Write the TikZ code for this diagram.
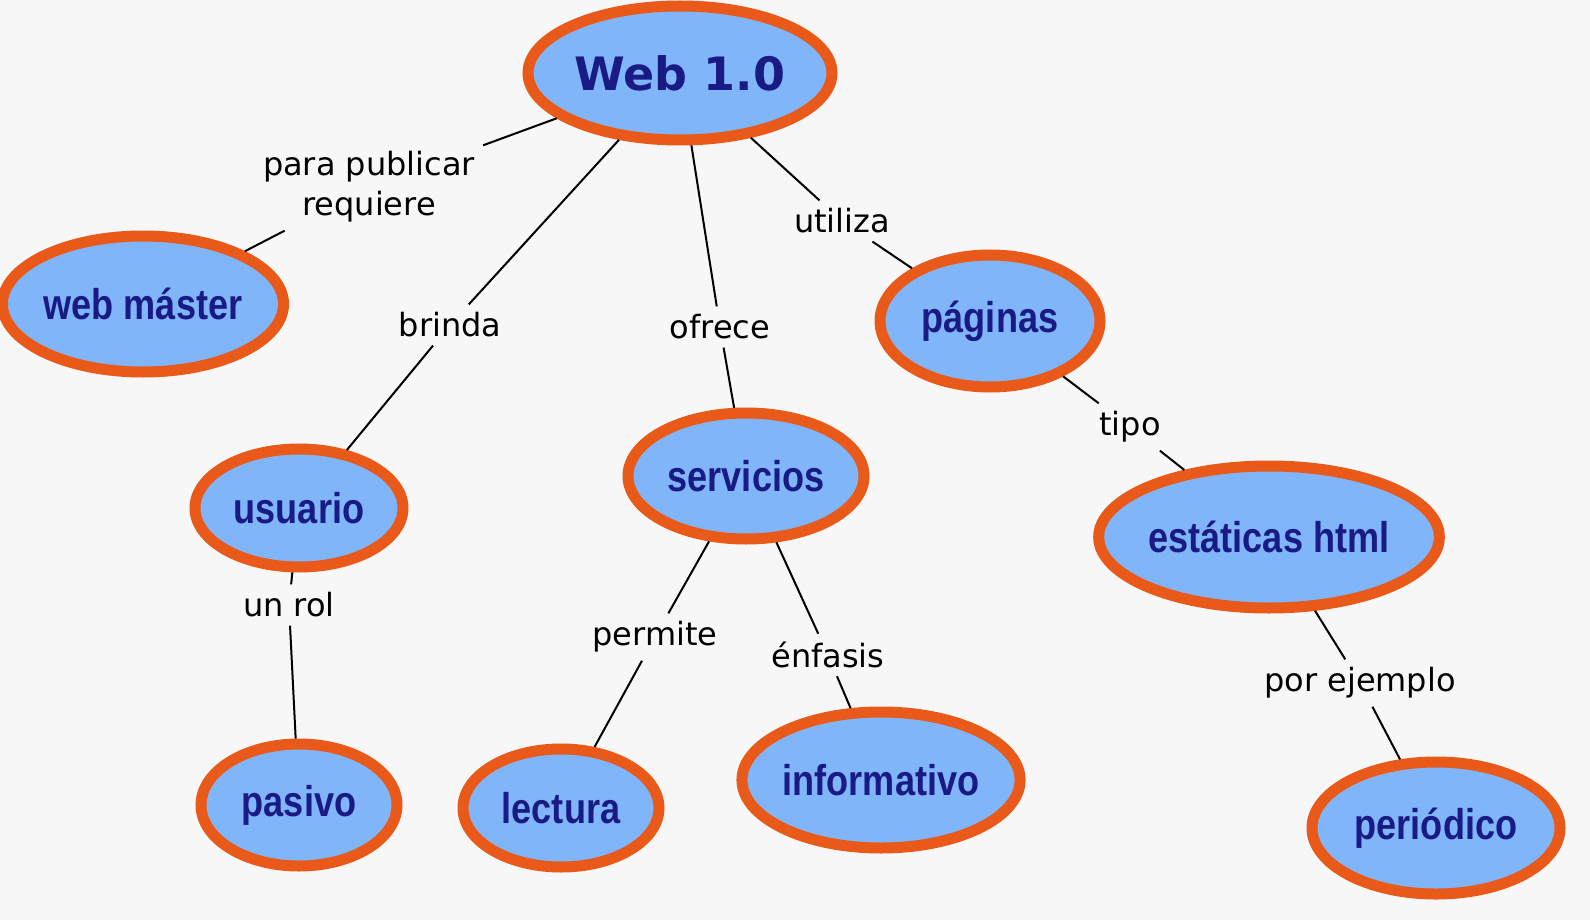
\documentclass[tikz,border=0pt]{standalone}
\usepackage{fontspec}
\setmainfont{DejaVu Sans}
\newfontfamily\nodefont[FakeStretch=0.84]{Liberation Sans}
\usetikzlibrary{shapes.geometric}
\definecolor{bg}{HTML}{F7F7F7}
\definecolor{ring}{HTML}{E8591A}
\definecolor{fillb}{HTML}{80B6F9}
\definecolor{navy}{HTML}{1A1A85}
\tikzset{
 concept/.style={ellipse,draw=ring,fill=fillb,line width=11pt,inner sep=0pt,text=navy,font=\nodefont\bfseries\fontsize{43}{47}\selectfont},
 lab/.style={font=\fontsize{32}{40}\selectfont,align=center,inner sep=8pt,text=black},
 con/.style={line width=2pt,black}
}
\begin{document}
\begin{tikzpicture}[x=1pt,y=-1pt]
\fill[bg] (0,0) rectangle (1590,920);
\useasboundingbox (0,0) rectangle (1590,920);
\node[concept,minimum width=304,minimum height=134,font=\bfseries\fontsize{46}{52}\selectfont] (web) at (680,73) {Web 1.0};
\node[concept,minimum width=278,minimum height=136] (wm) at (143,304) {web máster};
\node[concept,minimum width=208,minimum height=118] (us) at (299,508) {usuario};
\node[concept,minimum width=196,minimum height=122] (pa) at (299,805) {pasivo};
\node[concept,minimum width=236,minimum height=126] (se) at (746,476) {servicios};
\node[concept,minimum width=196,minimum height=118] (le) at (561,808) {lectura};
\node[concept,minimum width=278,minimum height=136] (in) at (881,780) {informativo};
\node[concept,minimum width=220,minimum height=132] (pg) at (990,321) {páginas};
\node[concept,minimum width=326,minimum height=142] (es) at (1269,537) {estáticas html};
\node[concept,minimum width=248,minimum height=132] (pe) at (1436,828) {periódico};

\node[lab] (l1) at (369,187) {para publicar\\requiere};
\node[lab] (l2) at (450,325) {brinda};
\node[lab] (l3) at (720,327) {ofrece};
\node[lab] (l4) at (842,221) {utiliza};
\node[lab] (l5) at (1130,427) {tipo};
\node[lab] (l6) at (289,605) {un rol};
\node[lab] (l7) at (655,637) {permite};
\node[lab] (l8) at (828,655) {énfasis};
\node[lab] (l9) at (1360,683) {por ejemplo};

\draw[con] (web) -- (l1) -- (wm);
\draw[con] (web) -- (l2) -- (us);
\draw[con] (web) -- (l3) -- (se);
\draw[con] (web) -- (l4) -- (pg);
\draw[con] (pg) -- (l5) -- (es);
\draw[con] (us) -- (l6) -- (pa);
\draw[con] (se) -- (l7) -- (le);
\draw[con] (se) -- (l8) -- (in);
\draw[con] (es) -- (l9) -- (pe);
\end{tikzpicture}
\end{document}
